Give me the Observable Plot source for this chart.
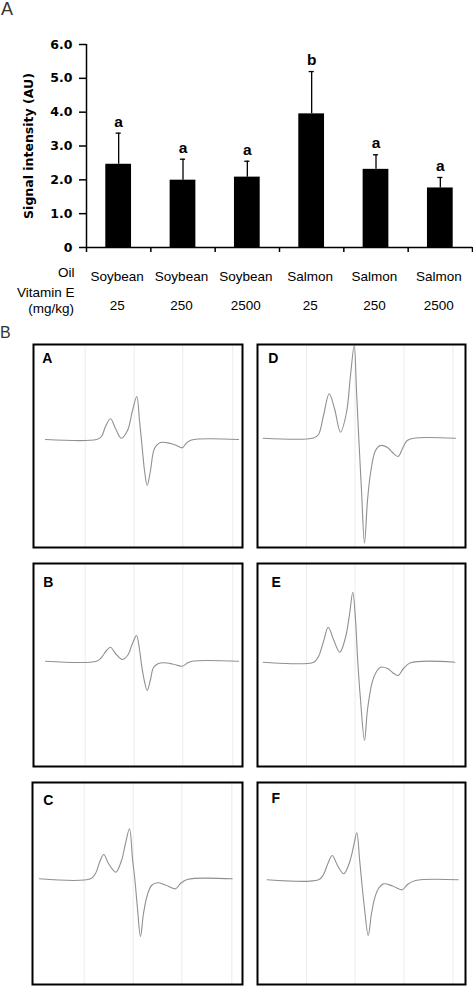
<!DOCTYPE html>
<html><head><meta charset="utf-8">
<script src="https://cdn.jsdelivr.net/npm/d3@7"></script>
<script src="https://cdn.jsdelivr.net/npm/@observablehq/plot@0.6"></script>
<style>
body{margin:0;background:#fff;}
#fig{position:relative;width:473px;height:987px;overflow:hidden;font-family:"Liberation Sans",Arial,sans-serif;}
#fig svg{position:absolute;}
.lbl{position:absolute;line-height:1;color:#333;font-family:"Liberation Sans",Arial,sans-serif;}
</style></head><body><div id="fig"></div>
<script>
// ---------- Panel A data ----------
const oils = ["Soybean","Soybean","Soybean","Salmon","Salmon","Salmon"];
const vitaminE = ["25","250","2500","25","250","2500"];
const means = [2.46, 1.99, 2.08, 3.95, 2.31, 1.76];
const sds = [0.92, 0.62, 0.47, 1.25, 0.43, 0.31];
const letters = ["a","a","a","b","a","a"];
const yTicks = [0,1,2,3,4,5,6];
const groupEdges = [0,1,2,3,4,5,6];

// ---------- Panel B data: EPR spectra (field, intensity), arbitrary units ----------
const spectrumA = [[13,1],[64,1],[69,4],[73,14],[78,21.7],[83,12],[88.7,2.3],[95,10],[100,30],[104.3,44],[107,20],[109.5,-5],[112,-30],[114.7,-45],[118,-30],[122,-8],[128,-2],[138,-3],[144,-5],[149.7,-7.3],[154,-2.5],[159,0.5],[206,1]];
const spectrumB = [[13,-1.7],[64,-1.7],[69,2],[74,9],[78,12.3],[83,6],[89.7,0],[95,4],[100,16],[104,24],[107,10],[109,-5],[112,-22],[114.7,-31],[118,-20],[121,-8],[126,-4],[131,-3.3],[140,-4.5],[149.7,-6.7],[155,-3.5],[159.7,-1.7],[206,-1.7]];
const spectrumC = [[8,-0.3],[59,-0.3],[64,5],[68,16],[72.3,24],[77,15],[84.3,6.3],[90,18],[94,35],[98,49.7],[101,20],[103.3,-0.3],[106,-30],[109,-58],[112,-35],[115.7,-17],[120,-7],[125.7,-4.3],[134,-6.5],[144,-10.3],[149,-5],[155.7,-1],[200.7,-0.3]];
const spectrumD = [[6.7,2.3],[57,2.5],[62,6],[67,25],[72.7,46.7],[78,32],[84,8.3],[90,28],[94,65],[97.7,95],[100,50],[102.3,2],[105,-50],[108,-102.7],[111,-60],[114,-33],[119,-10],[124,-5],[131,-7],[136,-12],[141.7,-16],[146,-8],[150.7,0],[157,2.3],[199,2.3]];
const spectrumE = [[6.7,-2.7],[57.3,-2.7],[62,3],[67,18],[71.7,32.3],[77,20],[83.3,7.3],[89,22],[93,45],[96.3,67.3],[99,40],[101.3,-2.7],[104,-40],[108,-81],[111,-50],[115.7,-22.7],[120,-12],[124,-7.7],[131,-9],[136,-13],[141.7,-16],[147,-9],[154,-3.3],[198.3,-2.7]];
const spectrumF = [[10.7,-1.3],[62,-1.3],[67,4],[71,14],[75.7,23],[81,13],[87.3,4.7],[93,16],[97,32],[100.3,45.7],[103,20],[105,-1.3],[108,-30],[111.7,-57],[115,-35],[118,-20.3],[122,-10],[127.3,-5.3],[136,-7.5],[145.7,-11.3],[151,-6],[159,-2],[201.7,-1.3]];
const gridLeft = [52.7,101.7,150.3,200.3];
const gridRight = [50,98.5,147.5,196.5];

const fig = document.getElementById("fig");
const idx = d3.range(means.length);
const boldFont = "DejaVu Sans, sans-serif";

const bar = Plot.plot({
  width: 473, height: 340,
  marginLeft: 86, marginRight: 1, marginTop: 44, marginBottom: 93,
  x: {domain: [0, 6]},
  y: {domain: [0, 6]},
  style: {fontFamily: "Liberation Sans, Arial, sans-serif", fontSize: "13px", background: "transparent", overflow: "visible", color: "black"},
  marks: [
    Plot.rect(idx, {x1: i => i + 0.3, x2: i => i + 0.7, y1: () => 0, y2: i => means[i], fill: "black"}),
    Plot.ruleX(idx, {x: i => i + 0.5, y1: i => means[i], y2: i => means[i] + sds[i], stroke: "black", strokeWidth: 1.3}),
    Plot.ruleY(idx, {x1: i => i + 0.46, x2: i => i + 0.54, y: i => means[i] + sds[i], stroke: "black", strokeWidth: 1.3}),
    Plot.text(idx, {x: i => i + 0.5, y: i => means[i] + sds[i], text: i => letters[i], lineAnchor: "bottom", dy: -6.5, fontSize: 15.5, fontWeight: "bold", fill: "black"}),
    Plot.ruleX([0], {y1: () => 0, y2: () => 6, stroke: "black", strokeWidth: 1.5}),
    Plot.ruleY([0], {stroke: "black", strokeWidth: 1.5}),
    Plot.axisY(yTicks, {tickSize: 7, tickPadding: 7, tickFormat: d => d === 0 ? "0" : d.toFixed(1), fontFamily: boldFont, fontWeight: "bold", fontSize: 12.5, stroke: "black", strokeWidth: 1.5, fill: "black", label: null}),
    Plot.axisX(groupEdges, {tickSize: 5, tickFormat: () => "", stroke: "black", strokeWidth: 1.5, label: null}),
    Plot.text(["Signal intensity (AU)"], {frameAnchor: "left", dx: -58, rotate: -90, textAnchor: "middle", fontFamily: boldFont, fontWeight: "bold", fontSize: 12.5, fill: "black"}),
    Plot.text(idx, {x: i => i + 0.5, y: () => 0, text: i => oils[i], dy: 29, dx: -1.5, fill: "black", fontSize: 13.5}),
    Plot.text(idx, {x: i => i + 0.5, y: () => 0, text: i => vitaminE[i], dy: 58, dx: -1.5, fill: "black", fontSize: 13.5}),
    Plot.text(["Oil"], {frameAnchor: "bottom-left", dx: -12, dy: 29, textAnchor: "end", fill: "black", fontSize: 13.5}),
    Plot.text(["Vitamin E"], {frameAnchor: "bottom-left", dx: -12, dy: 49, textAnchor: "end", fill: "black", fontSize: 13.5}),
    Plot.text(["(mg/kg)"], {frameAnchor: "bottom-left", dx: -12.5, dy: 65, textAnchor: "end", fill: "black", fontSize: 13.5})
  ]
});
bar.style.left = "0px"; bar.style.top = "0px";
fig.appendChild(bar);

function addLabel(t, left, top, size) {
  const d = document.createElement("div");
  d.className = "lbl"; d.textContent = t;
  d.style.left = left + "px"; d.style.top = top + "px"; d.style.fontSize = size + "px";
  fig.appendChild(d);
}
addLabel("A", 1, 0, 18);
addLabel("B", 0, 324.5, 16);

const panels = [
  {label: "A", data: spectrumA, grid: gridLeft, left: 32, top: 343, w: 211, h: 205, lx: 9.7, ly: 15},
  {label: "D", data: spectrumD, grid: gridRight, left: 256, top: 343, w: 210, h: 205, lx: 11.7, ly: 15},
  {label: "B", data: spectrumB, grid: gridLeft, left: 32, top: 562, w: 211, h: 205, lx: 10.7, ly: 20},
  {label: "E", data: spectrumE, grid: gridRight, left: 256, top: 562, w: 210, h: 205, lx: 15, ly: 20},
  {label: "C", data: spectrumC, grid: gridLeft, left: 31, top: 781, w: 212, h: 204, lx: 11.7, ly: 19},
  {label: "F", data: spectrumF, grid: gridRight, left: 256, top: 781, w: 210, h: 204, lx: 15, ly: 16.7}
];

for (const p of panels) {
  const svg = Plot.plot({
    width: p.w, height: p.h, margin: 0,
    x: {domain: [0, p.w], axis: null},
    y: {domain: [97 - p.h, 97], axis: null},
    style: {fontFamily: "Liberation Sans, Arial, sans-serif", background: "white", overflow: "visible"},
    marks: [
      Plot.ruleX(p.grid, {stroke: "#ececec", strokeWidth: 1}),
      Plot.line(p.data, {x: d => d[0], y: d => d[1], stroke: "#909090", strokeWidth: 1.1, curve: "catmull-rom"}),
      Plot.frame({stroke: "black", strokeWidth: 2, inset: 1}),
      Plot.text([p.label], {frameAnchor: "top-left", dx: p.lx, dy: p.ly, lineAnchor: "middle", textAnchor: "start", fontSize: 14, fontWeight: "bold", fill: "black"})
    ]
  });
  svg.style.left = p.left + "px"; svg.style.top = p.top + "px";
  fig.appendChild(svg);
}
</script></body></html>
